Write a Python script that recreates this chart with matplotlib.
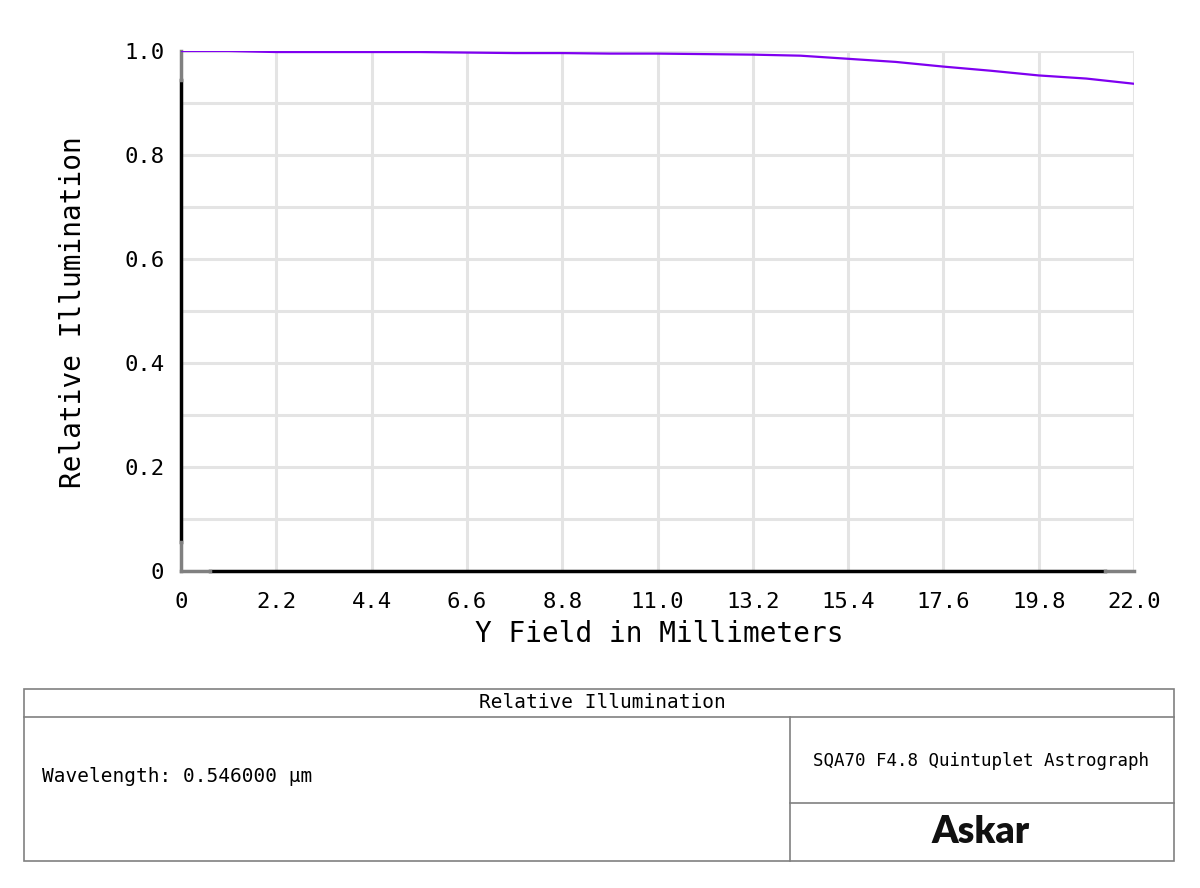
import matplotlib
matplotlib.use("Agg")
import matplotlib.pyplot as plt
from matplotlib.lines import Line2D
from matplotlib.patches import Rectangle

# Data
field_mm = [0.0, 1.1, 2.2, 3.3, 4.4, 5.5, 6.6, 7.7, 8.8, 9.9, 11.0,
            12.1, 13.2, 14.3, 15.4, 16.5, 17.6, 18.7, 19.8, 20.9, 22.0]
rel_illum = [1.000, 1.000, 0.998, 0.998, 0.998, 0.998, 0.997, 0.996, 0.996, 0.995, 0.995,
             0.994, 0.993, 0.991, 0.985, 0.979, 0.970, 0.962, 0.953, 0.947, 0.937]
x_ticks = [0, 2.2, 4.4, 6.6, 8.8, 11.0, 13.2, 15.4, 17.6, 19.8, 22.0]
x_tick_labels = ["0", "2.2", "4.4", "6.6", "8.8", "11.0", "13.2", "15.4", "17.6", "19.8", "22.0"]
y_ticks = [0, 0.2, 0.4, 0.6, 0.8, 1.0]
y_tick_labels = ["0", "0.2", "0.4", "0.6", "0.8", "1.0"]
y_grid = [0.1, 0.3, 0.5, 0.7, 0.9]

W, H = 1200, 888
MONO = "DejaVu Sans Mono"

fig = plt.figure(figsize=(W / 100, H / 100), dpi=100)
fig.patch.set_facecolor("white")


def fx(px):
    return px / W


def fy(py):
    return 1 - py / H


ax = fig.add_axes([fx(181), fy(571), fx(1134) - fx(181), fy(51) - fy(571)])
ax.set_xlim(0, 22)
ax.set_ylim(0, 1)

for s in ax.spines.values():
    s.set_visible(False)

ax.set_xticks(x_ticks)
ax.set_xticklabels(x_tick_labels, fontfamily=MONO, fontsize=16)
ax.set_yticks(y_ticks)
ax.set_yticklabels(y_tick_labels, fontfamily=MONO, fontsize=16)
ax.set_yticks(y_grid, minor=True)
ax.tick_params(axis="both", which="both", length=0)
ax.tick_params(axis="x", pad=15)
ax.tick_params(axis="y", pad=12)
ax.grid(True, which="both", color="#e4e4e4", linewidth=2.2)
ax.set_axisbelow(True)

ax.plot(field_mm, rel_illum, color="#7f00f0", linewidth=1.6, zorder=3)

# Zemax-style axis lines: black with grey end segments
gy, gx = 0.055, 0.03
ax.plot([0, 0], [gy, 1 - gy], color="black", lw=2.5, transform=ax.transAxes, clip_on=False)
ax.plot([0, 0], [0, gy], color="#808080", lw=2.5, transform=ax.transAxes, clip_on=False)
ax.plot([0, 0], [1 - gy, 1], color="#808080", lw=2.5, transform=ax.transAxes, clip_on=False)
ax.plot([gx, 1 - gx], [0, 0], color="black", lw=2.5, transform=ax.transAxes, clip_on=False)
ax.plot([0, gx], [0, 0], color="#808080", lw=2.5, transform=ax.transAxes, clip_on=False)
ax.plot([1 - gx, 1], [0, 0], color="#808080", lw=2.5, transform=ax.transAxes, clip_on=False)

fig.text(fx(659), fy(634), "Y Field in Millimeters", fontfamily=MONO, fontsize=20,
         ha="center", va="center")
fig.text(fx(73), fy(312), "Relative Illumination", fontfamily=MONO, fontsize=20,
         ha="center", va="center", rotation=90)

# Info box below the plot
box_color = "#808080"
fig.add_artist(Rectangle((fx(24), fy(861)), fx(1174) - fx(24), fy(689) - fy(861),
                         transform=fig.transFigure, fill=False, edgecolor=box_color, lw=1.2))
fig.add_artist(Line2D([fx(24), fx(1174)], [fy(717), fy(717)], transform=fig.transFigure,
                      color=box_color, lw=1.2))
fig.add_artist(Line2D([fx(790), fx(790)], [fy(717), fy(861)], transform=fig.transFigure,
                      color=box_color, lw=1.2))
fig.add_artist(Line2D([fx(790), fx(1174)], [fy(803), fy(803)], transform=fig.transFigure,
                      color=box_color, lw=1.2))

fig.text(fx(602), fy(703), "Relative Illumination", fontfamily=MONO, fontsize=14,
         ha="center", va="center")
fig.text(fx(42), fy(776), "Wavelength: 0.546000 µm", fontfamily=MONO, fontsize=14,
         ha="left", va="center")
fig.text(fx(981), fy(761), "SQA70 F4.8 Quintuplet Astrograph", fontfamily=MONO, fontsize=12.6,
         ha="center", va="center")
fig.text(fx(981), fy(832), "Askar", fontfamily="Lato", fontweight="heavy", fontsize=27,
         ha="center", va="center", color="#111111")

fig.savefig("out.png", dpi=100)
